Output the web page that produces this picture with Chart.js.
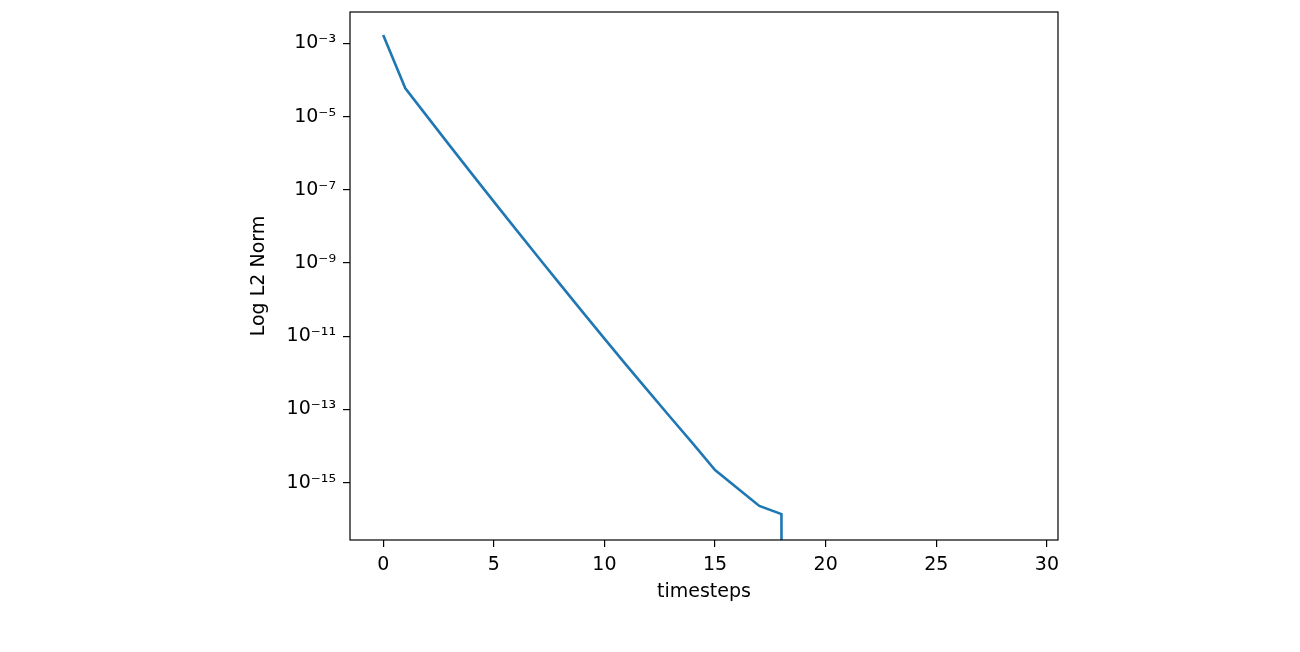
<!DOCTYPE html>
<html>
<head>
<meta charset="utf-8">
<script src="https://cdn.jsdelivr.net/npm/chart.js@4/dist/chart.umd.min.js"></script>
<style>
  html, body { margin: 0; padding: 0; background: #fff; }
  #wrap { width: 1300px; height: 652px; }
</style>
</head>
<body>
<div id="wrap"><canvas id="chart"></canvas></div>
<script>
// timesteps and L2 norm (0 = exact zero, clipped off the log axis)
var timesteps = [0, 1, 2, 3, 4, 5, 6, 7, 8, 9, 10, 11, 12, 13, 14, 15,
                 16, 17, 18, 19, 20, 21, 22, 23, 24, 25, 26, 27, 28, 29, 30];
var l2Norm = [1.69e-3, 5.9e-5, 9.8e-6, 1.63e-6, 2.77e-7, 4.76e-8, 8.3e-9, 1.46e-9,
              2.6e-10, 4.7e-11, 8.6e-12, 1.6e-12, 3.05e-13, 5.9e-14, 1.16e-14, 2.2e-15,
              7.1e-16, 2.3e-16, 1.38e-16, 0, 0, 0, 0, 0, 0, 0, 0, 0, 0, 0, 0];
var xTicks = [0, 5, 10, 15, 20, 25, 30];
var yTickExps = [-3, -5, -7, -9, -11, -13, -15];

var sup = {'-': '\u207B', '0': '\u2070', '1': '\u00B9', '2': '\u00B2', '3': '\u00B3',
           '4': '\u2074', '5': '\u2075', '6': '\u2076', '7': '\u2077', '8': '\u2078', '9': '\u2079'};
function powLabel(e) {
    return '10' + String(e).split('').map(function (c) { return sup[c]; }).join('');
}

// like matplotlib, non-positive values are clipped to a tiny number so the line drops off the axis
var points = timesteps.map(function (t, i) {
    return { x: t, y: l2Norm[i] > 0 ? l2Norm[i] : 1e-300 };
});

var frame = {
    id: 'frame',
    afterDraw: function (chart) {
        var a = chart.chartArea, c = chart.ctx;
        c.save();
        c.strokeStyle = '#000';
        c.lineWidth = 1.2;
        c.strokeRect(a.left, a.top, a.right - a.left, a.bottom - a.top);
        c.restore();
    }
};

Chart.defaults.font.family = "'DejaVu Sans', sans-serif";
Chart.defaults.font.size = 19;
Chart.defaults.color = '#000';

var ctx = document.getElementById('chart');
new Chart(ctx, {
    type: 'line',
    data: {
        datasets: [{
            label: 'L2 Norm',
            data: points,
            borderColor: '#1f77b4',
            borderWidth: 2.6,
            pointRadius: 0,
            tension: 0,
            fill: false,
            clip: 0
        }]
    },
    options: {
        responsive: true,
        maintainAspectRatio: false,
        animation: false,
        layout: { padding: { left: 244, right: 242, top: 12, bottom: 46 } },
        plugins: { legend: { display: false }, tooltip: { enabled: false } },
        scales: {
            x: {
                type: 'linear',
                min: -1.5,
                max: 30.5,
                afterBuildTicks: function (s) { s.ticks = xTicks.map(function (v) { return { value: v }; }); },
                afterFit: function (s) { s.height = 66; s.paddingLeft = 0; s.paddingRight = 0; },
                grid: { drawOnChartArea: false, drawTicks: true, tickLength: 7, color: '#000', lineWidth: 1.2 },
                border: { display: false },
                ticks: { padding: 7, maxRotation: 0 },
                title: { display: true, text: 'timesteps', padding: { top: 0, bottom: 3 } }
            },
            y: {
                type: 'logarithmic',
                min: 2.7e-17,
                max: 7.2e-3,
                afterBuildTicks: function (s) { s.ticks = yTickExps.map(function (e) { return { value: Math.pow(10, e) }; }); },
                afterFit: function (s) { s.width = 106; s.paddingTop = 0; s.paddingBottom = 0; },
                grid: { drawOnChartArea: false, drawTicks: true, tickLength: 7, color: '#000', lineWidth: 1.2 },
                border: { display: false },
                ticks: {
                    padding: 7,
                    callback: function (v) { return powLabel(Math.round(Math.log10(v))); }
                },
                title: { display: true, text: 'Log L2 Norm', padding: 4 }
            }
        }
    },
    plugins: [frame]
});
</script>
</body>
</html>
